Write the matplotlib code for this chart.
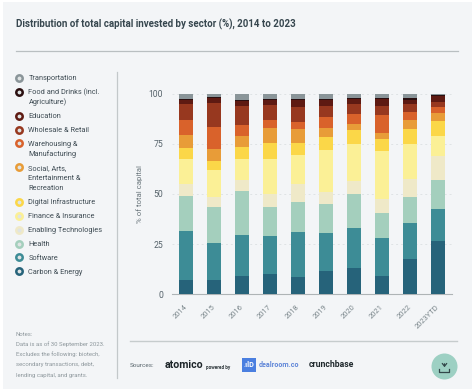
import matplotlib
matplotlib.use("Agg")
import matplotlib.pyplot as plt
from matplotlib.patches import Circle, Rectangle
from matplotlib.transforms import ScaledTranslation

plt.rcParams['font.family'] = ['Roboto', 'DejaVu Sans']

W, H = 474, 392

years = ['2014', '2015', '2016', '2017', '2018', '2019', '2020', '2021', '2022', '2023YTD']

carbon = [7.3, 7.2, 9.3, 10.0, 8.7, 11.8, 13.2, 9.3, 17.8, 26.5]
software = [24.3, 18.3, 20.2, 19.2, 22.3, 19.0, 19.8, 19.0, 17.7, 16.0]
health = [17.3, 18.0, 22.2, 14.3, 15.0, 14.3, 17.0, 12.2, 13.2, 14.7]
enabling = [6.2, 4.8, 5.5, 6.5, 9.0, 5.7, 6.7, 7.0, 9.0, 11.7]
finance = [12.3, 13.8, 10.0, 17.2, 14.2, 21.0, 18.2, 23.8, 17.0, 10.2]
digital = [5.5, 4.2, 6.0, 8.3, 6.3, 6.8, 7.0, 6.0, 7.5, 7.3]
social = [6.3, 6.0, 5.5, 7.3, 6.7, 4.2, 3.2, 3.2, 4.5, 4.2]
warehousing = [7.8, 11.2, 5.5, 4.3, 3.5, 5.7, 4.8, 8.7, 4.3, 2.8]
wholesale = [7.7, 12.0, 9.5, 7.2, 7.7, 5.3, 5.0, 4.8, 3.8, 2.5]
education = [2.0, 2.5, 2.8, 2.5, 3.5, 3.0, 2.3, 3.2, 2.3, 3.0]
food = [0.8, 0.5, 0.5, 0.7, 0.7, 0.8, 0.8, 0.8, 0.8, 0.5]
transport = [2.7, 1.8, 3.3, 2.8, 2.8, 2.7, 2.3, 2.3, 2.3, 1.0]

series = [carbon, software, health, enabling, finance, digital, social,
          warehousing, wholesale, education, food, transport]
colors = ['#26637a', '#3d8c96', '#a4cfbd', '#efe9c8', '#fbf096', '#fbd748',
          '#e89c38', '#d9622b', '#97381f', '#5e1a12', '#2a0f10', '#8a9599']

legend_labels = ['Transportation', 'Food and Drinks (incl.\nAgriculture)', 'Education',
                 'Wholesale & Retail', 'Warehousing &\nManufacturing',
                 'Social, Arts,\nEntertainment &\nRecreation', 'Digital Infrastructure',
                 'Finance & Insurance', 'Enabling Technologies', 'Health', 'Software',
                 'Carbon & Energy']
legend_y = [77.5, 91.7, 115.7, 129.7, 143.3, 167.3, 201.7, 215.7, 229.7, 243.7, 257.3, 271.3]
notes = ['Notes:', 'Data is as of 30 September 2023.', 'Excludes the following: biotech,',
         'secondary transactions, debt,', 'lending capital, and grants.']

fig = plt.figure(figsize=(W / 100, H / 100), dpi=100, facecolor='#ffffff')

# overlay in pixel coordinates for the card, rules, legend and footer
ov = fig.add_axes([0, 0, 1, 1], zorder=0)
ov.set_xlim(0, W)
ov.set_ylim(H, 0)
ov.axis('off')
ov.add_patch(Rectangle((3, 2), 469, H - 5, fc='#f3f5f7', ec='none'))
ov.plot([16, 458], [51, 51], color='#b9bfc1', lw=0.9)
ov.plot([117, 117], [72, 378], color='#c3c8ca', lw=0.9)
ov.plot([130, 457], [341, 341], color='#c6cccd', lw=1.0)

text_dark = '#3f4c54'
ov.text(16, 24, 'Distribution of total capital invested by sector (%), 2014 to 2023',
        fontsize=7.05, fontweight='bold', color='#37474f', va='center', ha='left')

for lab, y, c in zip(legend_labels, legend_y, colors[::-1]):
    ov.plot([19], [y], marker='o', ms=4.6, mfc='#dfe4e4', mec=c, mew=1.8, ls='none')
    for i, line in enumerate(lab.split('\n')):
        ov.text(28.5, y + 2.6 + 10.1 * i, line, fontsize=5.35, color=text_dark, va='baseline', ha='left')

for i, line in enumerate(notes):
    ov.text(16, 336 + 10.15 * i, line, fontsize=4.35, color='#8d979c', va='baseline', ha='left')

ov.text(130, 365.5, 'Sources:', fontsize=4.6, color='#59666d', va='center', ha='left')
ov.text(165, 364.5, 'atomico', fontsize=7.6, fontweight='bold', color='#1c2428', va='center', ha='left')
ov.text(206, 367, 'powered by', fontsize=3.4, fontweight='bold', color='#30393d', va='center', ha='left')
ov.add_patch(Rectangle((242, 358), 14, 14, fc='#4a7fe0', ec='none'))
ov.text(249, 365, '.ılD', fontsize=5.2, fontweight='bold', color='white', va='center', ha='center')
ov.text(258.7, 365, 'dealroom.co', fontsize=5.1, fontweight='bold', color='#5f86d8', va='center', ha='left')
ov.text(309, 364.5, 'crunchbase', fontsize=6.2, fontweight='bold', color='#20292d', va='center', ha='left')

ov.add_patch(Circle((444.5, 366.5), 13, fc='#9dd0c3', ec='none'))
ov.annotate('', xy=(444.5, 370), xytext=(444.5, 361),
            arrowprops=dict(arrowstyle='->,head_width=0.16,head_length=0.2', color='#33474a', lw=0.9))
ov.plot([439.5, 439.5, 449.5, 449.5], [369, 371.5, 371.5, 369], color='#33474a', lw=0.9)

# chart
L, R, T, B = 172.0, 451.5, 93.7, 294.3
ax = fig.add_axes([L / W, 1 - B / H, (R - L) / W, (B - T) / H], zorder=1)
ax.patch.set_alpha(0)
xs = range(len(years))
bottom = [0.0] * len(years)
for vals, c in zip(series, colors):
    ax.bar(xs, vals, width=0.5, bottom=bottom, color=c, linewidth=0, zorder=3)
    bottom = [b + v for b, v in zip(bottom, vals)]

ax.set_xlim(-0.5, 9.5)
ax.set_ylim(0, 100)
ax.set_yticks([0, 25, 50, 75, 100])
ax.set_xticks(list(xs))
ax.set_xticklabels(years, rotation=45, ha='right', rotation_mode='anchor')
ax.tick_params(axis='both', length=0)
ax.tick_params(axis='y', pad=6.5, labelsize=6.2, labelcolor='#55626a')
ax.tick_params(axis='x', pad=7, labelsize=5.4, labelcolor='#7a868b')
shift = ScaledTranslation(-2 / 100, 0, fig.dpi_scale_trans)
for t in ax.get_xticklabels():
    t.set_transform(t.get_transform() + shift)
ax.grid(axis='y', color='#dfe3e5', lw=0.7, ls=(0, (2, 3)), zorder=0)
for s in ['top', 'right', 'left']:
    ax.spines[s].set_visible(False)
ax.spines['bottom'].set_color('#aeb4b6')
ax.spines['bottom'].set_linewidth(0.8)
ax.set_ylabel('% of total capital', fontsize=5.7, color='#6b777d')
ax.yaxis.set_label_coords(-0.104, 0.5)

fig.savefig('out.png', dpi=100, facecolor=fig.get_facecolor())
